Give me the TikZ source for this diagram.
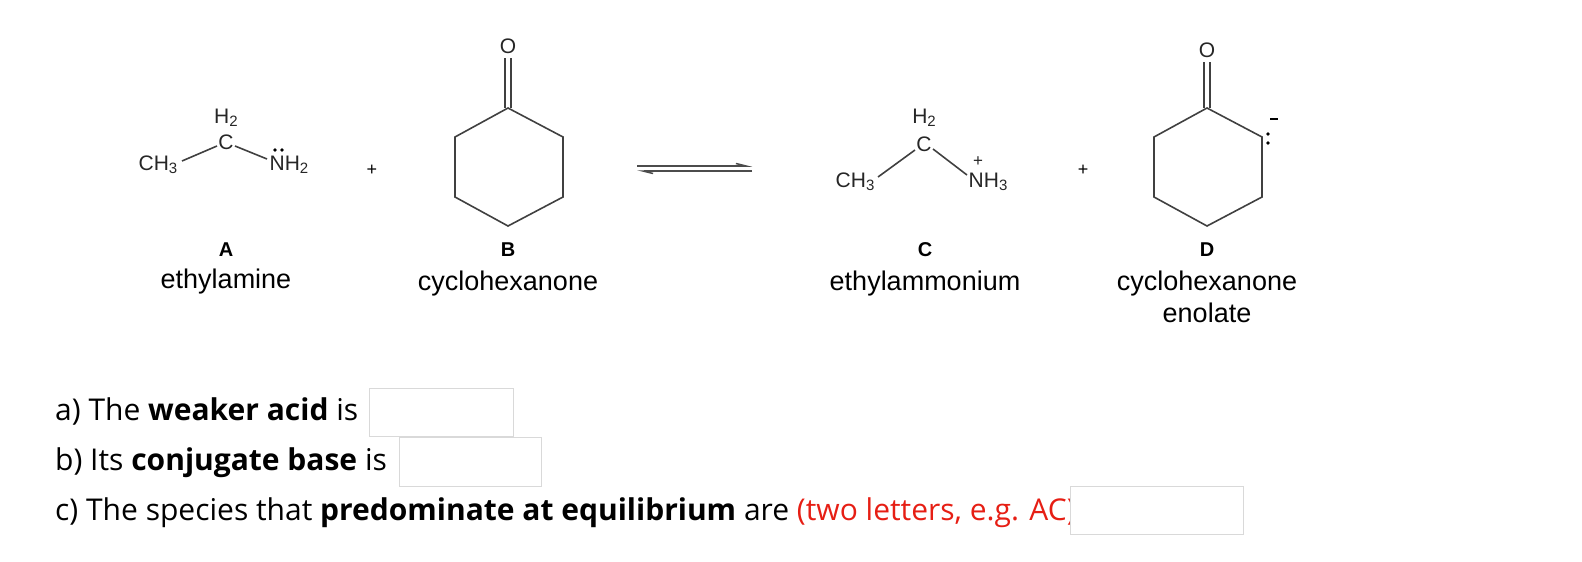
\documentclass[tikz,border=0pt]{standalone}
\usepackage{fontspec}
\setmainfont{Open Sans}
\newfontfamily\arial{Liberation Sans}
\usetikzlibrary{arrows.meta}
\newcommand{\sbs}[1]{\raisebox{-0.3ex}{\fontsize{15}{15}\selectfont #1}}
\tikzset{
  bond/.style={line width=1.6pt, draw=black!75},
  atom/.style={font=\arial\fontsize{21}{21}\selectfont, inner sep=0pt, text=black!85},
  lab/.style={font=\arial\fontsize{27}{27}\selectfont, inner sep=0pt, anchor=base},
  letter/.style={font=\arial\bfseries\fontsize{20}{20}\selectfont, inner sep=0pt, anchor=base},
  qtext/.style={font=\fontsize{30}{30}\selectfont, inner sep=0pt, anchor=base west},
  ansbox/.style={draw=black!15, line width=1pt, fill=white},
  plus/.style={font=\arial\fontsize{18}{18}\selectfont, inner sep=0pt},
}
\begin{document}
\begin{tikzpicture}[x=1pt,y=-1pt]
\useasboundingbox (0,0) rectangle (1582,562);
% ---- A ethylamine
\node[atom] (a1) at (158,165) {CH\sbs{3}};
\node[atom] (a2) at (226,142) {C};
\node[atom] (a2h) at (226,118) {H\sbs{2}};
\node[atom] (a3) at (289,165) {NH\sbs{2}};
\draw[bond] (182,161) -- (217,146);
\draw[bond] (235,146) -- (267,159);
\fill (275,150) circle (1.8) (282,150) circle (1.8);
\node[plus] (p1) at (372,170) {+};
% ---- B cyclohexanone
\coordinate (b1) at (508,108);
\coordinate (b2) at (563,137);
\coordinate (b3) at (563,197);
\coordinate (b4) at (508,226);
\coordinate (b5) at (455,197);
\coordinate (b6) at (455,137);
\draw[bond] (b1)--(b2)--(b3)--(b4)--(b5)--(b6)--cycle;
\node[atom] (bo) at (508,46) {O};
\draw[bond] (505,58) -- (505,108) (511,58) -- (511,108);
% ---- arrow
\draw[line width=1.5pt, draw=black!70, -{Straight Barb[left, length=10pt, width=5pt]}] (637,166) -- (752,166);
\draw[line width=1.5pt, draw=black!70, -{Straight Barb[left, length=10pt, width=5pt]}] (752,171) -- (637,171);
% ---- C ethylammonium
\node[atom] (c1) at (855,182) {CH\sbs{3}};
\node[atom] (c2) at (924,144) {C};
\node[atom] (c2h) at (924,118) {H\sbs{2}};
\node[atom] (c3) at (988,182) {NH\sbs{3}};
\node[atom, font=\arial\fontsize{17}{17}\selectfont] (cp) at (978,162) {+};
\draw[bond] (878,177) -- (915,150);
\draw[bond] (933,149) -- (967,175);
\node[plus] (p2) at (1083,170) {+};
% ---- D enolate
\coordinate (d1) at (1207,108);
\coordinate (d2) at (1262,137);
\coordinate (d3) at (1262,197);
\coordinate (d4) at (1207,226);
\coordinate (d5) at (1154,197);
\coordinate (d6) at (1154,137);
\draw[bond] (d1)--(d2)--(d3)--(d4)--(d5)--(d6)--cycle;
\node[atom] (do) at (1207,50) {O};
\draw[bond] (1204,62) -- (1204,108) (1210,62) -- (1210,108);
\fill (1268,134) circle (1.8) (1268,143) circle (1.8);
\draw[line width=1.2pt] (1270,119) -- (1278,119);
% ---- labels
\node[letter] (la) at (226,256) {A};
\node[lab] (na) at (226,288) {ethylamine};
\node[letter] (lb) at (508,256) {B};
\node[lab] (nb) at (508,290) {cyclohexanone};
\node[letter] (lc) at (925,256) {C};
\node[lab] (nc) at (925,290) {ethylammonium};
\node[letter] (ld) at (1207,256) {D};
\node[lab] (nd) at (1207,290) {cyclohexanone};
\node[lab] (nd2) at (1207,322) {enolate};
% ---- questions
\node[qtext] (qa) at (55,420) {a) The \textbf{weaker acid} is};
\draw[ansbox] (369,388) rectangle (513,436);
\node[qtext] (qb) at (55,470) {b) Its \textbf{conjugate base} is};
\draw[ansbox] (399,437) rectangle (541,486);
\node[qtext] (qc) at (55,520) {c) The species that \textbf{predominate at equilibrium} are \textcolor[RGB]{230,30,20}{(two letters, e.g. AC)}};
\draw[ansbox] (1070,486) rectangle (1243,534);
\end{tikzpicture}
\end{document}
